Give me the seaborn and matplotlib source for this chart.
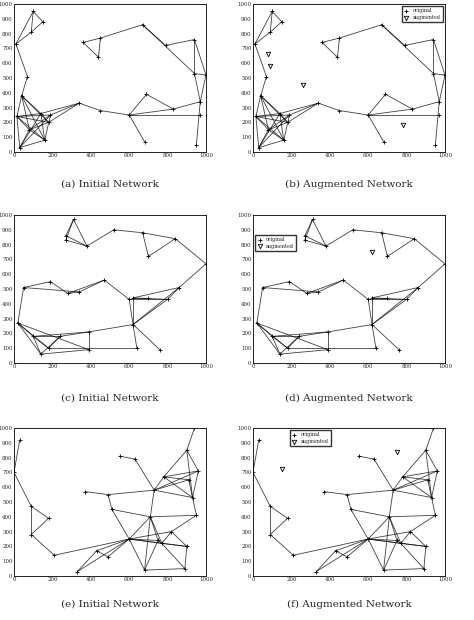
import matplotlib
matplotlib.use("Agg")
import matplotlib.pyplot as plt
import seaborn as sns

sns.set_theme(style="white")
plt.rcParams["font.family"] = ["DejaVu Serif"]

# network 1 (panels a, b)
nodes1 = [(100, 950), (150, 880), (90, 810), (10, 730), (70, 510), (40, 380), (15, 240), (30, 30),
          (140, 260), (190, 250), (180, 200), (160, 80), (80, 150), (340, 330), (450, 280), (600, 250),
          (690, 390), (680, 70), (830, 290), (970, 340), (950, 50), (970, 250), (670, 860), (790, 720),
          (940, 760), (940, 530), (1000, 520), (360, 740), (450, 770), (440, 640)]
edges1 = [(0, 1), (0, 2), (1, 2), (0, 3), (2, 3), (3, 4), (4, 5), (5, 6), (5, 8), (6, 8), (6, 9), (6, 10),
          (6, 11), (7, 6), (7, 8), (7, 9), (8, 11), (9, 11), (10, 12), (12, 5), (12, 9), (12, 7), (8, 10),
          (5, 10), (9, 13), (10, 13), (8, 13), (13, 14), (14, 15), (15, 16), (15, 17), (16, 18), (15, 18),
          (18, 19), (15, 21), (19, 20), (19, 26), (19, 25), (25, 24), (24, 23), (23, 22), (22, 28),
          (28, 27), (27, 29), (29, 28), (25, 26), (24, 26), (22, 25), (11, 7), (12, 11), (6, 12), (5, 11)]
aug1 = [(80, 660), (90, 580), (260, 450), (780, 180)]

# network 2 (panels c, d)
nodes2 = [(310, 970), (270, 860), (270, 830), (380, 790), (520, 900), (670, 880), (700, 720), (840, 840),
          (1000, 670), (860, 510), (800, 430), (620, 440), (600, 430), (470, 560), (340, 480), (280, 470),
          (190, 550), (50, 510), (20, 270), (100, 180), (140, 60), (180, 100), (240, 180), (390, 210),
          (390, 90), (620, 260), (640, 100), (760, 90), (700, 440)]
edges2 = [(0, 1), (0, 2), (1, 2), (0, 3), (1, 3), (2, 3), (3, 4), (4, 5), (5, 6), (6, 7), (5, 7), (7, 8),
          (8, 9), (9, 11), (9, 10), (11, 10), (12, 10), (28, 11), (9, 25), (11, 25), (12, 25), (25, 10),
          (12, 13), (13, 14), (13, 15), (14, 15), (15, 16), (16, 17), (17, 14), (17, 18), (18, 19),
          (18, 20), (18, 21), (18, 24), (19, 20), (19, 21), (19, 22), (20, 22), (21, 22), (22, 23),
          (23, 25), (23, 24), (20, 24), (21, 26), (25, 26), (25, 27), (19, 23)]
aug2 = [(620, 750)]

# network 3 (panels e, f)
nodes3 = [(30, 920), (0, 700), (90, 470), (180, 390), (90, 280), (210, 140), (330, 30), (430, 170),
          (490, 130), (600, 250), (680, 40), (890, 50), (900, 200), (770, 220), (750, 240), (820, 300),
          (710, 400), (950, 410), (510, 450), (370, 570), (490, 550), (730, 580), (550, 810), (630, 790),
          (780, 670), (910, 650), (960, 710), (930, 530), (900, 850), (940, 1000)]
edges3 = [(0, 1), (1, 2), (2, 3), (2, 4), (3, 4), (4, 5), (5, 9), (6, 7), (6, 9), (7, 8), (8, 9), (7, 9),
          (9, 10), (9, 16), (9, 13), (9, 14), (9, 15), (9, 12), (16, 10), (16, 17), (16, 14), (16, 13),
          (16, 21), (14, 13), (14, 10), (13, 12), (13, 11), (12, 11), (15, 17), (15, 13), (10, 11),
          (18, 20), (18, 9), (18, 16), (19, 20), (20, 21), (21, 23), (23, 22), (21, 24), (24, 25),
          (24, 26), (24, 28), (21, 25), (21, 26), (28, 29), (28, 26), (28, 27), (26, 27), (25, 27),
          (27, 17), (12, 15), (21, 27), (24, 27)]
aug3 = [(150, 720), (750, 840)]

ticks = [0, 200, 400, 600, 800, 1000]
y_ticks = [0, 100, 200, 300, 400, 500, 600, 700, 800, 900, 1000]
captions = ["(a) Initial Network", "(b) Augmented Network", "(c) Initial Network",
            "(d) Augmented Network", "(e) Initial Network", "(f) Augmented Network"]
legend_anchor = [(1.0, 1.0), (0.0, 0.88), (0.18, 1.0)]
legend_loc = ["upper right", "upper left", "upper left"]

fig = plt.figure(figsize=(4.74, 6.2), dpi=100)
nets = [(nodes1, edges1, aug1), (nodes2, edges2, aug2), (nodes3, edges3, aug3)]
tops = [4, 215, 428]
lefts = [14, 253]
cap_y = [184, 398, 604]

for r, (nodes, edges, aug) in enumerate(nets):
    for c in range(2):
        ax = fig.add_axes([lefts[c] / 474, 1 - (tops[r] + 148) / 620, 192 / 474, 148 / 620])
        for a, b in edges:
            ax.plot([nodes[a][0], nodes[b][0]], [nodes[a][1], nodes[b][1]],
                    color="black", linewidth=0.6, alpha=0.75)
        xs = [p[0] for p in nodes]
        ys = [p[1] for p in nodes]
        sns.scatterplot(x=xs, y=ys, marker="+", color="black", s=10, linewidth=0.6, ax=ax,
                        label="original" if c == 1 else None)
        if c == 1:
            sns.scatterplot(x=[p[0] for p in aug], y=[p[1] for p in aug], marker="v",
                            facecolor="white", edgecolor="black", s=10, linewidth=0.6, ax=ax,
                            label="augmented")
            ax.legend(loc=legend_loc[r], bbox_to_anchor=legend_anchor[r], fontsize=3.5,
                      frameon=True, edgecolor="black", fancybox=False, handlelength=1,
                      borderpad=0.4, labelspacing=0.3)
        ax.set_xlim(0, 1000)
        ax.set_ylim(0, 1000)
        ax.set_xticks(ticks)
        ax.set_yticks(y_ticks)
        ax.tick_params(labelsize=4, length=1.5, pad=1, direction="in")
        for s in ax.spines.values():
            s.set_color("black")
            s.set_linewidth(0.6)
        fig.text((lefts[c] + 96) / 474, 1 - cap_y[r] / 620, captions[r * 2 + c],
                 ha="center", va="center", fontsize=7.5)

fig.savefig("out.png", dpi=100)
